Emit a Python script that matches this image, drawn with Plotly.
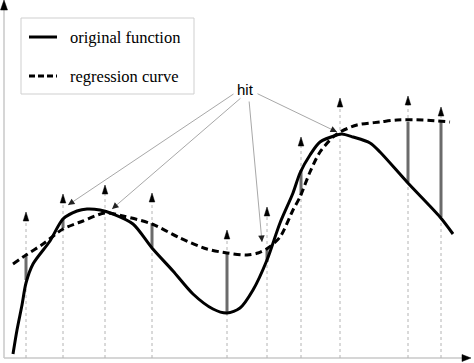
import plotly.graph_objects as go

# ---- data (chart units: x right, y up, origin at axes corner) ----
orig_x = [9, 13, 18, 22, 29, 46, 59, 73, 83, 96, 109, 129, 148, 169, 189, 209, 223, 236, 249,
          263, 276, 289, 296, 306, 316, 333, 338, 349, 366, 376, 403, 436, 449]
orig_y = [4, 28, 53, 75, 94, 117, 139, 147, 149, 148, 144, 134, 110, 87, 64, 49, 45, 50, 68,
          98, 135, 165, 185, 203, 216, 223, 224, 221, 215, 206, 176, 141, 124]

reg_x = [9, 22, 39, 59, 79, 101, 119, 148, 176, 203, 223, 243, 254, 264, 276, 289, 296, 306,
         316, 329, 336, 353, 376, 393, 419, 446]
reg_y = [94, 103, 114, 129, 137, 145, 142, 134, 120, 109, 105, 103, 105, 110, 121, 148, 161, 186,
         206, 221, 226, 233, 236, 238, 238, 236]

sample_x = [22, 59, 101, 148, 223, 263, 297, 336, 404, 437]
sample_top = [146, 164, 173, 165, 128, 151, 221, 260, 262, 251]
resid_lo = [78, 130, 146, 111, 45, 96, 163, 224, 176, 141]
resid_hi = [103, 140, 147, 135, 105, 110, 188, 225, 236, 236]

hit_label = "hit"
hit_from_x = [231, 238, 245, 252]
hit_from_y = [265, 261, 258, 265]
hit_to_x = [64, 108, 258, 333]
hit_to_y = [153, 149, 116, 226]

legend_names = ["original function", "regression curve"]

# ---- figure ----
fig = go.Figure()

AX = "#c8c8c8"
# axes lines
fig.add_trace(go.Scatter(x=[0, 0], y=[0, 349], mode="lines",
                         line=dict(color=AX, width=1.5), hoverinfo="skip", showlegend=False))
fig.add_trace(go.Scatter(x=[0, 459], y=[0, 0], mode="lines",
                         line=dict(color=AX, width=1.5), hoverinfo="skip", showlegend=False))

# dotted sample lines
dx, dy = [], []
for xs, top in zip(sample_x, sample_top):
    dx += [xs, xs, None]
    dy += [0, top - 9, None]
fig.add_trace(go.Scatter(x=dx, y=dy, mode="lines",
                         line=dict(color="#b4b4b4", width=1, dash="dot"),
                         hoverinfo="skip", showlegend=False))

# residual segments
rx, ry = [], []
for xs, lo, hi in zip(sample_x, resid_lo, resid_hi):
    rx += [xs, xs, None]
    ry += [lo, hi, None]
fig.add_trace(go.Scatter(x=rx, y=ry, mode="lines",
                         line=dict(color="#6b6b6b", width=3),
                         hoverinfo="skip", showlegend=False))

# curves
fig.add_trace(go.Scatter(x=orig_x, y=orig_y, mode="lines",
                         line=dict(color="black", width=3, shape="spline", smoothing=0.8),
                         hoverinfo="skip", showlegend=False))
fig.add_trace(go.Scatter(x=reg_x, y=reg_y, mode="lines",
                         line=dict(color="black", width=3, shape="spline", smoothing=0.8,
                                   dash="7px,4px"),
                         hoverinfo="skip", showlegend=False))

# arrowheads (triangles) at top of sample lines and on axes
tx, ty = [], []
for xs, top in zip(sample_x, sample_top):
    tx += [xs - 2.8, xs + 2.8, xs, xs - 2.8, None]
    ty += [top - 9, top - 9, top, top - 9, None]
# y axis arrow
tx += [-3.5, 3.5, 0, -3.5, None]
ty += [348, 348, 358, 348, None]
# x axis arrow
tx += [458, 458, 467, 458, None]
ty += [-3.5, 3.5, 0, -3.5, None]
fig.add_trace(go.Scatter(x=tx, y=ty, mode="lines", fill="toself", fillcolor="black",
                         line=dict(color="black", width=0.5),
                         hoverinfo="skip", showlegend=False))

# legend (drawn)
fig.add_shape(type="rect", x0=17, x1=190, y0=264, y1=340, layer="below",
              line=dict(color="#cfcfcf", width=1), fillcolor="white")
fig.add_trace(go.Scatter(x=[25, 53], y=[321, 321], mode="lines",
                         line=dict(color="black", width=3), hoverinfo="skip", showlegend=False))
fig.add_trace(go.Scatter(x=[25, 53], y=[282, 282], mode="lines",
                         line=dict(color="black", width=3, dash="6px,3px"),
                         hoverinfo="skip", showlegend=False))
for name, yy in zip(legend_names, [321, 282]):
    fig.add_annotation(x=64, y=yy, text=name, showarrow=False, xanchor="left", yanchor="middle",
                       font=dict(family="Liberation Serif", size=16.5, color="black"))

# hit label + arrows
fig.add_annotation(x=241, y=269, text=hit_label, showarrow=False, xanchor="center",
                   yanchor="middle", font=dict(family="Liberation Sans", size=15, color="black"))
for x0, y0, x1, y1 in zip(hit_from_x, hit_from_y, hit_to_x, hit_to_y):
    fig.add_annotation(x=x1, y=y1, ax=x0, ay=y0, xref="x", yref="y", axref="x", ayref="y",
                       text="", showarrow=True, arrowhead=0, arrowwidth=1, arrowcolor="#a8a8a8")
    L = ((x0 - x1) ** 2 + (y0 - y1) ** 2) ** 0.5
    fig.add_annotation(x=x1, y=y1, ax=x1 + (x0 - x1) * 7 / L, ay=y1 + (y0 - y1) * 7 / L,
                       xref="x", yref="y", axref="x", ayref="y", text="", showarrow=True,
                       arrowhead=2, arrowsize=1.3, arrowwidth=1, arrowcolor="#222222")

fig.update_layout(
    width=474, height=363, margin=dict(l=0, r=0, t=0, b=0),
    paper_bgcolor="white", plot_bgcolor="white", showlegend=False,
    xaxis=dict(range=[-4, 470], visible=False, fixedrange=True),
    yaxis=dict(range=[-5, 358], visible=False, fixedrange=True),
)

fig.write_html("out.html", config={"displayModeBar": False},
               post_script="document.body.style.margin='0px';")
